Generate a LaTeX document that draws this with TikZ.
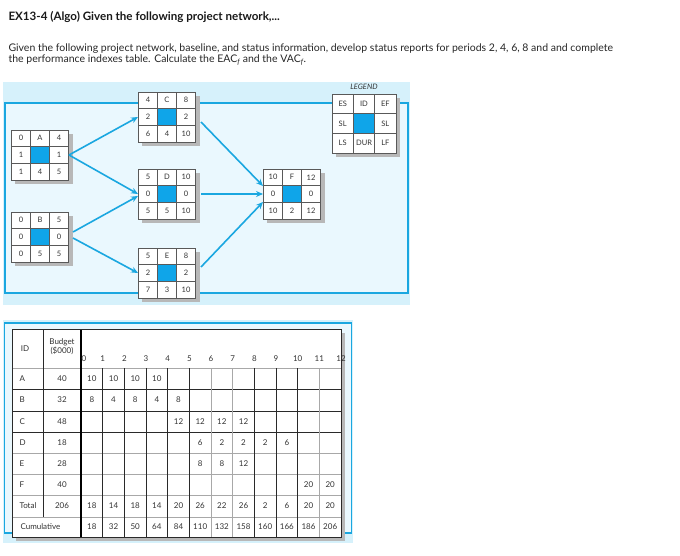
\documentclass[tikz,border=0pt]{standalone}
\usepackage{fontspec}
\setmainfont{Lato}
\usetikzlibrary{matrix,shadows,arrows.meta}
\definecolor{panelblue}{HTML}{D6F1FB}
\definecolor{innerblue}{HTML}{EAF8FE}
\definecolor{lineblue}{HTML}{1AA7E0}
\definecolor{cellblue}{HTML}{0FA5E9}
\definecolor{shadowgray}{HTML}{B8B8B8}
\definecolor{gridgray}{HTML}{A8A8A8}
\definecolor{griddark}{HTML}{2A2A2A}
\begin{document}
\begin{tikzpicture}[x=1pt,y=-1pt,
    every node/.style={font=\fontsize{7.5}{8.5}\selectfont,text=black!80},
    actbox/.style={matrix of nodes,nodes in empty cells,inner sep=0pt,fill=white,
      general shadow={fill=shadowgray,shadow xshift=4pt,shadow yshift=-4pt},
      column sep=-0.6pt,row sep=-0.6pt,
      nodes={draw=black!65,line width=0.6pt,minimum width=19pt,
        minimum height=16.7pt,inner sep=0pt,anchor=center}},
    legbox/.style={actbox,nodes={minimum width=21.3pt,minimum height=19.7pt}},
    flow/.style={draw=lineblue,line width=1.6pt,-{Stealth[length=7pt,width=6pt]}},
    tabnum/.style={font=\fontsize{8}{9}\selectfont}]
  \useasboundingbox (0,0) rectangle (680,556);

  % heading
  \node[anchor=base west,font=\fontsize{11.6}{14}\selectfont\bfseries,text=black!90] (title)
    at (5,21) {EX13-4 (Algo) Given the following project network,...};
  \node[anchor=base west,font=\fontsize{10.5}{12}\selectfont,text=black!85] (line1) at (5,51.5)
    {Given the following project network, baseline, and status information, develop status reports for periods 2, 4, 6, 8 and and complete};
  \node[anchor=base west,font=\fontsize{10.5}{12}\selectfont,text=black!85] (line2) at (5,63)
    {the performance indexes table. Calculate the EAC\textsubscript{\itshape f} and the VAC\textsubscript{\itshape f}.};

  % network panel
  \fill[panelblue] (3,82) rectangle (410,305);
  \draw[lineblue,line width=1.2pt,fill=innerblue] (5,103) rectangle (408,293);

  \matrix (A) [actbox] at (40,155) {0 & A & 4\\ 1 & |[fill=cellblue]| & 1\\ 1 & 4 & 5\\};
  \matrix (B) [actbox] at (40,237) {0 & B & 5\\ 0 & |[fill=cellblue]| & 0\\ 0 & 5 & 5\\};
  \matrix (C) [actbox] at (167,117) {4 & C & 8\\ 2 & |[fill=cellblue]| & 2\\ 6 & 4 & 10\\};
  \matrix (D) [actbox] at (167,194) {5 & D & 10\\ 0 & |[fill=cellblue]| & 0\\ 5 & 5 & 10\\};
  \matrix (E) [actbox] at (167,273) {5 & E & 8\\ 2 & |[fill=cellblue]| & 2\\ 7 & 3 & 10\\};
  \matrix (F) [actbox] at (292,194) {10 & F & 12\\ 0 & |[fill=cellblue]| & 0\\ 10 & 2 & 12\\};

  \node[font=\fontsize{7.5}{8.5}\selectfont\itshape] (legtitle) at (364,87) {LEGEND};
  \matrix (L) [legbox] at (364,123.5) {ES & ID & EF\\ SL & |[fill=cellblue]| & SL\\ LS & DUR & LF\\};

  \draw[flow] (A.east) -- (C.west);
  \draw[flow] (A.east) -- (D.west);
  \draw[flow] ([xshift=4pt,yshift=5pt]B.east) -- ([yshift=-2pt]D.west);
  \draw[flow] ([xshift=4pt,yshift=-1pt]B.east) -- (E.west);
  \draw[flow] ([xshift=5pt,yshift=-5pt]C.east) -- ([yshift=8pt]F.west);
  \draw[flow,line width=2.8pt] ([xshift=5pt]D.east) -- (F.west);
  \draw[flow] ([xshift=5pt,yshift=6pt]E.east) -- ([yshift=-8pt]F.west);

  % baseline table
  \fill[panelblue] (3,320) rectangle (353,543);
  \draw[lineblue,line width=1.5pt,fill=innerblue] (4.5,323) rectangle (351.5,533);
  \fill[shadowgray] (16,333) rectangle (345,541);
  \fill[white] (12,329) rectangle (341,537);
  \foreach \y in {368,453,474,495,517}
    \draw[gridgray,line width=0.7pt] (12,\y) -- (341,\y);
  \foreach \y in {389,411,432}
    \draw[griddark,line width=0.7pt] (12,\y) -- (341,\y);
  \draw[griddark,line width=0.7pt] (43,329) -- (43,517);
  \foreach \c in {1,2,3,4,5,8,9,10}
    \draw[griddark,line width=0.7pt] ({81+21.67*\c},368) -- ({81+21.67*\c},537);
  \foreach \c in {6,7,11}
    \draw[gridgray,line width=0.7pt] ({81+21.67*\c},368) -- ({81+21.67*\c},537);
  \draw[black,line width=1.2pt] (81,329) -- (81,537);
  \draw[griddark,line width=0.9pt] (12,329) rectangle (341,537);

  \node[tabnum] (idhead) at (25,349) {ID};
  \node[tabnum,align=center,font=\fontsize{8}{9}\selectfont] (budhead) at (62,347) {Budget\\(\$000)};
  \foreach \k in {0,...,12}
    \node[tabnum] (p\k) at ({81+21.67*\k+3*(\k==0)},359) {\k};

  \foreach \r/\bud/\y in {A/40/378.5,B/32/400,C/48/421.5,D/18/442.5,E/28/463.5,F/40/484.5,Total/206/506} {
    \node[tabnum,anchor=west] (lab\r) at (16,\y) {\r};
    \node[tabnum] (bud\r) at (62,\y) {\bud};
  }
  \node[tabnum,anchor=west] (labcum) at (17,527) {Cumulative};

  \foreach \r/\y/\vals in {A/378.5/{1/10,2/10,3/10,4/10},
      B/400/{1/8,2/4,3/8,4/4,5/8},
      C/421.5/{5/12,6/12,7/12,8/12},
      D/442.5/{6/6,7/2,8/2,9/2,10/6},
      E/463.5/{6/8,7/8,8/12},
      F/484.5/{11/20,12/20},
      T/506/{1/18,2/14,3/18,4/14,5/20,6/26,7/22,8/26,9/2,10/6,11/20,12/20},
      S/527/{1/18,2/32,3/50,4/64,5/84,6/110,7/132,8/158,9/160,10/166,11/186,12/206}} {
    \foreach \c/\v in \vals
      \node[tabnum] (\r-\c) at ({81+21.67*(\c-0.5)},\y) {\v};
  }
\end{tikzpicture}
\end{document}
